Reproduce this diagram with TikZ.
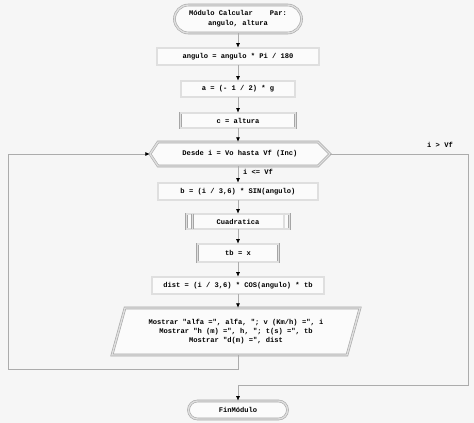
\documentclass[tikz,border=0pt]{standalone}
\usepackage{fontspec}
\setmonofont{Liberation Mono}
\usetikzlibrary{arrows.meta,calc}
\tikzset{
  boxstyle/.style={draw=gray!70, double=gray!25, double distance=1.4pt, line width=0.6pt, fill=gray!3},
  box/.style={boxstyle, inner sep=0pt, anchor=center},
  plain/.style={inner sep=0pt, anchor=center},
  conn/.style={draw=gray!65, line width=0.7pt},
  arr/.style={conn, -{Latex[length=4.5pt,width=4pt,color=black]}},
  lbl/.style={inner sep=0pt, anchor=center},
}
\begin{document}
\begin{tikzpicture}[x=1pt,y=-1pt, font=\ttfamily\bfseries\fontsize{7.1}{9}\selectfont]
\fill[gray!7] (0,0) rectangle (474,423);
\useasboundingbox (0,0) rectangle (474,423);

% start terminal
\node[box, rounded corners=14pt, minimum width=127pt, minimum height=28pt, align=center, font=\ttfamily\bfseries\fontsize{7.1}{10}\selectfont] (start) at (238,19) {Módulo Calcular\ \ \ \ Par:\\angulo, altura};

\node[box, minimum width=162pt, minimum height=17pt] (b1) at (238,56.5) {angulo = angulo * Pi / 180};
\node[box, minimum width=114pt, minimum height=16pt] (b2) at (238,89) {a = (- 1 / 2) * g};
\node[box, minimum width=115pt, minimum height=15pt] (b3) at (238,120.5) {c = altura};

% hexagon (loop)
\coordinate (hexc) at (240,154);
\draw[boxstyle] ($(hexc)+(-90,0)$) -- ($(hexc)+(-82,-12)$) -- ($(hexc)+(78,-12)$) -- ($(hexc)+(90,0)$) -- ($(hexc)+(78,12)$) -- ($(hexc)+(-82,12)$) -- cycle;
\node[plain, minimum width=180pt, minimum height=24pt] (hex) at (hexc) {Desde i = Vo hasta Vf (Inc)};

\node[box, minimum width=160pt, minimum height=17pt] (b4) at (238,191.5) {b = (i / 3,6) * SIN(angulo)};
\node[box, minimum width=103pt, minimum height=15pt] (b5) at (238,221.5) {Cuadratica};
\draw[boxstyle] ([xshift=6pt]b5.north west) -- ([xshift=6pt]b5.south west);
\draw[boxstyle] ([xshift=-6pt]b5.north east) -- ([xshift=-6pt]b5.south east);
\node[box, minimum width=81pt, minimum height=18pt] (b6) at (238,253) {tb = x};
\node[box, minimum width=172pt, minimum height=17pt] (b7) at (238,285.5) {dist = (i / 3,6) * COS(angulo) * tb};

% parallelogram
\coordinate (parac) at (236,331.5);
\draw[boxstyle] ($(parac)+(-111,-23.5)$) -- ($(parac)+(124,-23.5)$) -- ($(parac)+(111,23.5)$) -- ($(parac)+(-124,23.5)$) -- cycle;
\node[plain, minimum width=248pt, minimum height=47pt, align=center] (para) at (parac) {Mostrar "alfa =", alfa, "; v (Km/h) =", i\\Mostrar "h (m) =", h, "; t(s) =", tb\\Mostrar "d(m) =", dist};

\node[box, rounded corners=9pt, minimum width=99pt, minimum height=18pt] (fin) at (238,410) {FinMódulo};

% connectors
\draw[arr] (start.south) -- (b1.north);
\draw[arr] (b1.south) -- (b2.north);
\draw[arr] (b2.south) -- (b3.north);
\draw[arr] (b3.south) -- (b3.south |- hex.north);
\draw[arr] (b4.north |- hex.south) -- (b4.north);
\draw[arr] (b4.south) -- (b5.north);
\draw[arr] (b5.south) -- (b6.north);
\draw[arr] (b6.south) -- (b7.north);
\draw[arr] (b7.south) -- (b7.south |- para.north);

\coordinate (loopL) at (8,369);
\coordinate (paraout) at (b7.south |- para.south);
\draw[arr] (paraout) |- (loopL) |- (hex.west);

\coordinate (loopR) at (468,385);
\draw[arr] (hex.east) -| (loopR) -| (fin.north);

\node[lbl] (lt) at (258,172) {i <= Vf};
\node[lbl] (gt) at (440,144.5) {i > Vf};
\end{tikzpicture}
\end{document}
